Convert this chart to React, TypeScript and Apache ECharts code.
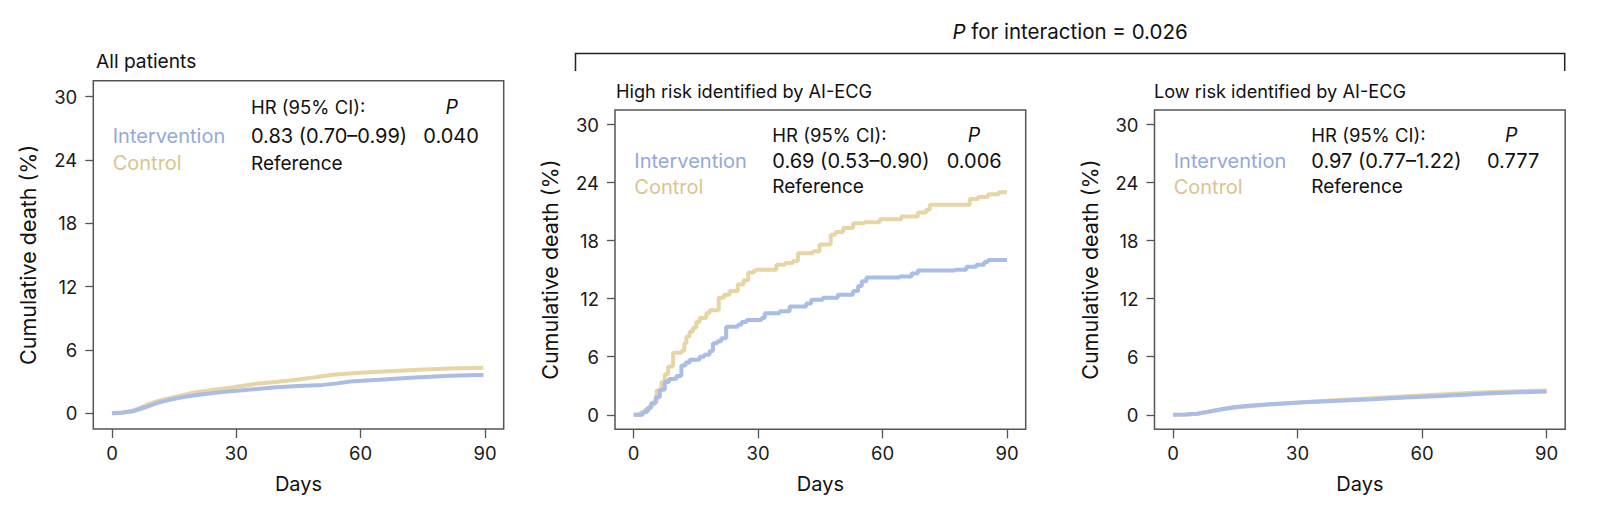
import React, { useEffect, useRef } from "react";
import * as echarts from "echarts";

// ---- data (days, cumulative death %) ----
const xTicks = [0, 30, 60, 90];
const yTicks = [0, 6, 12, 18, 24, 30];

const allControl: number[][] = [
  [0, 0], [2.5, 0.08], [5, 0.25], [7, 0.55], [9, 0.88], [11, 1.15], [13.9, 1.42], [17, 1.7], [20.3, 1.99],
  [24, 2.2], [29.2, 2.46], [34.8, 2.78], [40, 2.98], [44.5, 3.16], [49, 3.4], [53.3, 3.63], [58, 3.78],
  [63, 3.89], [68, 4.0], [72.7, 4.1], [77, 4.17], [81.5, 4.23], [86, 4.28], [89.6, 4.3],
];
const allIntervention: number[][] = [
  [0, 0], [2.5, 0.05], [5, 0.17], [7, 0.42], [9, 0.69], [11, 0.98], [13.9, 1.26], [17.5, 1.55], [21.9, 1.8],
  [26, 1.98], [30.8, 2.14], [35, 2.3], [39.6, 2.46], [45, 2.57], [50.9, 2.68], [54, 2.8], [57.4, 3.0],
  [64.6, 3.16], [71.9, 3.35], [77, 3.46], [81.5, 3.54], [86, 3.6], [89.6, 3.62],
];

const highControl: number[][] = [
  [0, 0], [1.5, 0.2], [2.6, 0.5], [3.8, 0.9], [4.6, 1.3], [5.5, 2.5], [6.7, 3.4], [7.5, 4.2], [8.3, 5.0],
  [9.5, 6.4], [11.5, 6.6], [12.2, 7.4], [12.7, 8.1], [13.5, 8.6], [14.3, 9.0], [15.1, 9.6], [15.9, 10.0],
  [17.5, 10.5], [18.3, 10.8], [20.5, 12.1], [21.8, 12.4], [23.1, 12.8], [25.1, 13.5], [26.5, 13.9],
  [27.6, 14.7], [29.0, 14.9], [29.6, 15.0], [34.4, 15.5], [36.5, 15.7], [38.4, 15.9], [39.6, 16.7],
  [43.2, 16.9], [44.8, 17.6], [47.5, 18.6], [48.6, 18.9], [50.5, 19.3], [52.9, 19.8], [55.6, 19.9],
  [59.3, 20.2], [64.5, 20.5], [68.5, 20.9], [70.5, 21.2], [71.4, 21.7], [81.0, 22.3], [83.0, 22.5],
  [85.4, 22.8], [88.0, 23.0], [90, 23.0],
];
const highIntervention: number[][] = [
  [0, 0], [2.2, 0.3], [3.3, 0.7], [4.2, 1.2], [5.3, 1.8], [6.3, 2.6], [7.5, 3.4], [8.5, 3.7], [10.3, 4.0],
  [11.5, 5.1], [12.5, 5.4], [13.5, 5.7], [15.9, 6.0], [17.0, 6.2], [18.3, 6.6], [19.1, 7.4], [20.2, 7.6],
  [21.1, 7.9], [22.3, 9.1], [25.1, 9.3], [26.0, 9.6], [27.2, 9.8], [30.8, 10.0], [31.6, 10.5], [35.2, 10.7],
  [37.6, 11.2], [41.6, 11.5], [42.8, 11.9], [45.6, 12.1], [49.2, 12.4], [52.9, 12.8], [54.1, 13.3],
  [55.0, 13.8], [56.1, 14.2], [64.1, 14.3], [67.0, 14.6], [68.5, 14.9], [77.4, 15.0], [80.2, 15.3],
  [82.6, 15.5], [84.5, 15.8], [85.4, 16.0], [90, 16.0],
];

const lowControl: number[][] = [
  [0, 0], [3, 0.02], [5.8, 0.1], [8.5, 0.32], [11.6, 0.55], [15, 0.75], [19, 0.9], [25, 1.1], [31.4, 1.3],
  [40, 1.52], [47.9, 1.72], [56, 1.92], [64.4, 2.1], [70, 2.22], [76.8, 2.35], [83, 2.43], [90, 2.5],
];
const lowIntervention: number[][] = [
  [0, 0], [3, 0.02], [5.8, 0.1], [8.5, 0.33], [11.6, 0.58], [15, 0.8], [19, 0.96], [25, 1.14], [31.4, 1.3],
  [40, 1.45], [47.9, 1.61], [56, 1.78], [64.4, 1.95], [70, 2.08], [76.8, 2.23], [83, 2.32], [90, 2.4],
];

const panelTitles = ["All patients", "High risk identified by AI-ECG", "Low risk identified by AI-ECG"];
const hrTexts = ["0.83 (0.70–0.99)", "0.69 (0.53–0.90)", "0.97 (0.77–1.22)"];
const pTexts = ["0.040", "0.006", "0.777"];
const interactionP = "0.026";

// ---- styles ----
const FONT = "Inter, 'Noto Sans', sans-serif";
const BLUE_LINE = "#a9bde6";
const TAN_LINE = "#e7d5a6";
const BLUE_TEXT = "#93a9da";
const TAN_TEXT = "#dcc48e";
const TXT = "#111";
const AXIS = "#555";

const grids = [
  { left: 93.3, top: 80.7, width: 410.4, height: 348.3 },
  { left: 615, top: 110, width: 410.7, height: 319.3 },
  { left: 1154.5, top: 110, width: 410.7, height: 319.3 },
];

// text anchor positions per panel
const textPos = [
  { hrX: 251, pC: 451.7, pX: 423.3, legX: 112.7, y0: 106.7, y1: 135.7, y2: 163.3, titleX: 96, titleY: 60.7, titleSize: 19.2 },
  { hrX: 772.3, pC: 974, pX: 946.7, legX: 634.3, y0: 135, y1: 160.7, y2: 186.7, titleX: 616, titleY: 91, titleSize: 18.2 },
  { hrX: 1311.3, pC: 1511.3, pX: 1487, legX: 1173.7, y0: 135, y1: 160.7, y2: 186.7, titleX: 1154, titleY: 91, titleSize: 18.2 },
];

function txt(text: string, x: number, y: number, opts: any = {}) {
  return {
    type: "text",
    x,
    y,
    style: {
      text,
      fill: opts.fill || TXT,
      font: `${opts.italic ? "italic " : ""}${opts.size || 18}px ${FONT}`,
      textAlign: opts.align || "left",
      textVerticalAlign: "middle",
    },
    silent: true,
  };
}

export default function App() {
  const ref = useRef<HTMLDivElement>(null);

  useEffect(() => {
    document.body.style.margin = "0";
    if (!ref.current) return;
    const chart = echarts.init(ref.current, undefined, { renderer: "svg" });

    const xAxes = grids.map((_, i) => ({
      type: "value",
      gridIndex: i,
      min: -4.5,
      max: 94.5,
      name: "Days",
      nameLocation: "middle",
      nameGap: 45,
      nameTextStyle: { fontFamily: FONT, fontSize: 20, color: TXT },
      axisLine: { show: false, onZero: false },
      splitLine: { show: false },
      axisTick: { show: true, inside: false, length: 9, customValues: xTicks, lineStyle: { color: AXIS, width: 1.3 } },
      axisLabel: { customValues: xTicks, margin: 14, fontFamily: FONT, fontSize: 18.5, color: "#1a1a1a" },
    }));
    const yAxes = grids.map((_, i) => ({
      type: "value",
      gridIndex: i,
      min: -1.5,
      max: 31.5,
      name: "Cumulative death (%)",
      nameLocation: "middle",
      nameGap: 54,
      nameTextStyle: { fontFamily: FONT, fontSize: 21.5, color: TXT },
      axisLine: { show: false, onZero: false },
      splitLine: { show: false },
      axisTick: { show: true, inside: false, length: 8, customValues: yTicks, lineStyle: { color: AXIS, width: 1.3 } },
      axisLabel: { customValues: yTicks, margin: 16, fontFamily: FONT, fontSize: 18.5, color: "#1a1a1a" },
    }));

    const mk = (data: number[][], color: string, i: number, step: boolean) => ({
      type: "line",
      xAxisIndex: i,
      yAxisIndex: i,
      data,
      step: step ? "end" : false,
      showSymbol: false,
      symbol: "none",
      lineStyle: { color, width: 4 },
      z: 3,
    });

    const series = [
      mk(allControl, TAN_LINE, 0, false),
      mk(allIntervention, BLUE_LINE, 0, false),
      mk(highControl, TAN_LINE, 1, true),
      mk(highIntervention, BLUE_LINE, 1, true),
      mk(lowControl, TAN_LINE, 2, false),
      mk(lowIntervention, BLUE_LINE, 2, false),
    ];

    const graphics: any[] = [];
    textPos.forEach((p, i) => {
      graphics.push(txt(panelTitles[i], p.titleX, p.titleY, { size: p.titleSize }));
      graphics.push(txt("HR (95% CI):", p.hrX, p.y0, { size: 18.5 }));
      graphics.push(txt("P", p.pC, p.y0, { italic: true, align: "center", size: 19.5 }));
      graphics.push(txt("Intervention", p.legX, p.y1, { fill: BLUE_TEXT, size: 20 }));
      graphics.push(txt(hrTexts[i], p.hrX, p.y1, { size: 20 }));
      graphics.push(txt(pTexts[i], p.pX, p.y1, { size: 20 }));
      graphics.push(txt("Control", p.legX, p.y2, { fill: TAN_TEXT, size: 20 }));
      graphics.push(txt("Reference", p.hrX, p.y2, { size: 19 }));
    });
    // interaction title and bracket
    graphics.push({
      type: "text",
      x: 1070,
      y: 31.7,
      style: {
        rich: {
          it: { fontStyle: "italic", fontFamily: FONT, fontSize: 20.5, fill: TXT },
          n: { fontFamily: FONT, fontSize: 20.5, fill: TXT },
        },
        text: `{it|P}{n| for interaction = ${interactionP}}`,
        textAlign: "center",
        textVerticalAlign: "middle",
      },
      silent: true,
    });
    graphics.push({
      type: "polyline",
      shape: { points: [[575.5, 71], [575.5, 53.5], [1564.7, 53.5], [1564.7, 71]] },
      style: { stroke: "#222", lineWidth: 1.5, fill: "none" },
      silent: true,
    });

    chart.setOption({
      animation: false,
      backgroundColor: "#fff",
      grid: grids.map((g) => ({ ...g, show: true, borderColor: AXIS, borderWidth: 1.5, containLabel: false })),
      xAxis: xAxes,
      yAxis: yAxes,
      series,
      graphic: graphics,
    });

    return () => chart.dispose();
  }, []);

  return <div ref={ref} style={{ width: 1602, height: 510 }} />;
}
